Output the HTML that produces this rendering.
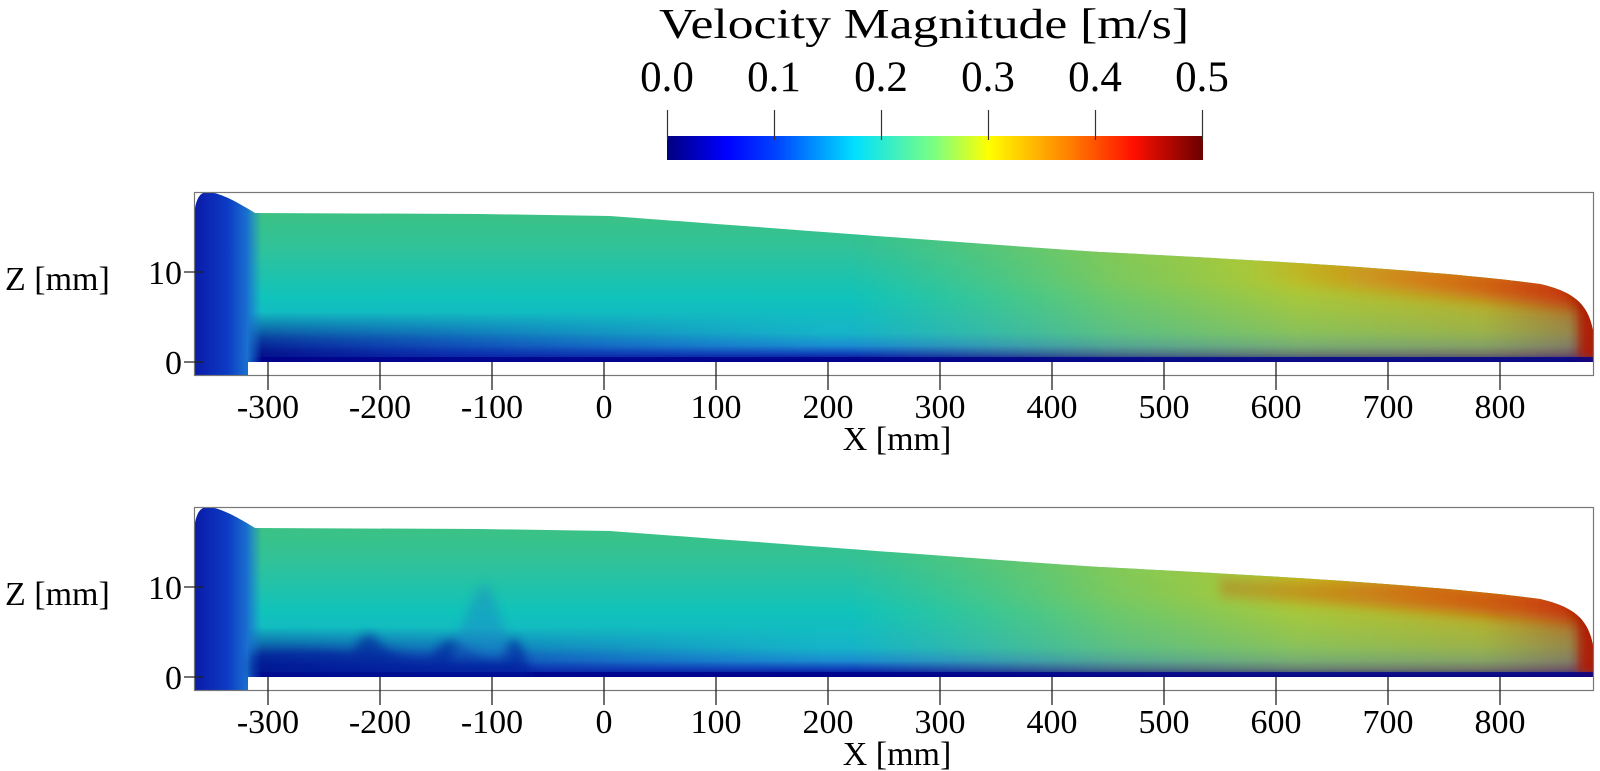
<!DOCTYPE html>
<html><head><meta charset="utf-8"><style>
html,body{margin:0;padding:0;background:#fff;}
svg{display:block;font-family:"Liberation Serif",serif;}
</style></head><body>
<svg width="1600" height="771" viewBox="0 0 1600 771" xmlns="http://www.w3.org/2000/svg">
<defs>
<filter id="bl" filterUnits="userSpaceOnUse" x="0" y="0" width="1700" height="800"><feGaussianBlur stdDeviation="8"/></filter>
<filter id="bl2" filterUnits="userSpaceOnUse" x="0" y="0" width="1700" height="800"><feGaussianBlur stdDeviation="5"/></filter>
<linearGradient id="cb" x1="0" x2="1" y1="0" y2="0">
<stop offset="0" stop-color="#00007f"/><stop offset="0.11" stop-color="#0000ff"/>
<stop offset="0.2" stop-color="#0040ff"/><stop offset="0.35" stop-color="#00e0ff"/>
<stop offset="0.5" stop-color="#7dff80"/><stop offset="0.6" stop-color="#ffff00"/>
<stop offset="0.75" stop-color="#ff8000"/><stop offset="0.87" stop-color="#ff1000"/>
<stop offset="1" stop-color="#6a0000"/></linearGradient>
<linearGradient id="vert" x1="0" x2="0" y1="200" y2="362" gradientUnits="userSpaceOnUse">
<stop offset="0" stop-color="#40c17c"/><stop offset="0.3" stop-color="#30c29a"/>
<stop offset="0.6" stop-color="#10c3bb"/><stop offset="0.82" stop-color="#16b4c8"/>
<stop offset="0.9" stop-color="#1a8cd0"/><stop offset="0.95" stop-color="#1040b8"/>
<stop offset="1" stop-color="#000088"/></linearGradient>
<linearGradient id="hor" x1="850" x2="1595" y1="0" y2="0" gradientUnits="userSpaceOnUse">
<stop offset="0" stop-color="#80d050" stop-opacity="0"/><stop offset="0.35" stop-color="#a8cc38" stop-opacity="0.7"/>
<stop offset="0.6" stop-color="#c8c820" stop-opacity="0.95"/><stop offset="0.85" stop-color="#d8b010"/>
<stop offset="1" stop-color="#d06010"/></linearGradient>
<linearGradient id="mk" x1="0" x2="0" y1="200" y2="362" gradientUnits="userSpaceOnUse">
<stop offset="0" stop-color="#fff"/><stop offset="0.5" stop-color="#fff" stop-opacity="0.95"/>
<stop offset="0.8" stop-color="#fff" stop-opacity="0.7"/><stop offset="0.95" stop-color="#fff" stop-opacity="0.5"/>
<stop offset="1" stop-color="#fff" stop-opacity="0.2"/></linearGradient>
<mask id="m1"><rect x="0" y="180" width="1600" height="200" fill="url(#mk)"/></mask>
<linearGradient id="mk2" x1="0" x2="0" y1="312" y2="356" gradientUnits="userSpaceOnUse">
<stop offset="0" stop-color="#fff" stop-opacity="0"/><stop offset="0.6" stop-color="#fff" stop-opacity="0.7"/><stop offset="1" stop-color="#fff"/></linearGradient>
<mask id="m2"><rect x="0" y="300" width="1600" height="80" fill="url(#mk2)"/></mask>
<linearGradient id="red" x1="1250" x2="1595" y1="0" y2="0" gradientUnits="userSpaceOnUse">
<stop offset="0" stop-color="#d87010" stop-opacity="0"/><stop offset="0.5" stop-color="#d86010" stop-opacity="0.7"/>
<stop offset="0.9" stop-color="#c83a08"/><stop offset="1" stop-color="#a01000"/></linearGradient>
<linearGradient id="inl" x1="194" x2="262" y1="0" y2="0" gradientUnits="userSpaceOnUse">
<stop offset="0" stop-color="#0a1aa8"/><stop offset="0.5" stop-color="#0c3cc4"/>
<stop offset="0.78" stop-color="#1a70d0"/><stop offset="1" stop-color="#1a80d0" stop-opacity="0"/></linearGradient>
<linearGradient id="dk" x1="248" x2="820" y1="0" y2="0" gradientUnits="userSpaceOnUse">
<stop offset="0" stop-color="#04108a"/><stop offset="0.35" stop-color="#0a28a8" stop-opacity="0.75"/><stop offset="1" stop-color="#1040b8" stop-opacity="0"/></linearGradient>
<clipPath id="shape"><path d="M194,215 C196,198 200,192 208,192 C222,193 240,204 255,213 L480,214 L610,216 C800,230 950,242 1100,252 C1300,262 1450,272 1540,284 C1575,292 1588,305 1593,330 L1594,362 L248,362 L248,376 L194,376 Z"/></clipPath>
<g id="fluid">
<g clip-path="url(#shape)">
<rect x="190" y="185" width="1410" height="195" fill="url(#vert)"/>
<rect x="190" y="185" width="1410" height="195" fill="url(#hor)" mask="url(#m1)"/>
<path d="M1250,250 C1400,262 1500,272 1600,280 L1600,310 C1500,300 1400,290 1250,280 Z" fill="url(#red)" filter="url(#bl)"/>
<rect x="1578" y="280" width="30" height="80" fill="#b01800" filter="url(#bl2)" opacity="0.9"/>
<rect x="248" y="300" width="600" height="62" fill="url(#dk)" mask="url(#m2)"/>
<rect x="190" y="357" width="1410" height="6" fill="#00008a" opacity="0.8"/>
<rect x="190" y="185" width="75" height="195" fill="url(#inl)"/>
</g></g>
</defs>

<text x="924" y="38" font-size="42" text-anchor="middle" textLength="530" lengthAdjust="spacingAndGlyphs">Velocity Magnitude [m/s]</text>
<rect x="667" y="136" width="536" height="24" fill="url(#cb)"/>
<g stroke="#333" stroke-width="1.2">
<line x1="667.5" y1="110" x2="667.5" y2="140"/><line x1="774.5" y1="110" x2="774.5" y2="140"/>
<line x1="881.5" y1="110" x2="881.5" y2="140"/><line x1="988.5" y1="110" x2="988.5" y2="140"/>
<line x1="1095.5" y1="110" x2="1095.5" y2="140"/><line x1="1202.5" y1="110" x2="1202.5" y2="140"/></g>
<g font-size="43" text-anchor="middle">
<text x="667" y="91">0.0</text><text x="774" y="91">0.1</text><text x="881" y="91">0.2</text>
<text x="988" y="91">0.3</text><text x="1095" y="91">0.4</text><text x="1202" y="91">0.5</text></g>

<!-- top plot -->
<g>
<use href="#fluid"/>
<rect x="194.5" y="192.5" width="1399" height="183" fill="none" stroke="#777" stroke-width="1.2"/>
<g stroke="#222" stroke-width="1.3">
<line x1="184" y1="272" x2="204" y2="272"/><line x1="184" y1="362" x2="204" y2="362"/>
<line x1="268" y1="362" x2="268" y2="390"/><line x1="380" y1="362" x2="380" y2="390"/><line x1="492" y1="362" x2="492" y2="390"/><line x1="604" y1="362" x2="604" y2="390"/><line x1="716" y1="362" x2="716" y2="390"/><line x1="828" y1="362" x2="828" y2="390"/><line x1="940" y1="362" x2="940" y2="390"/><line x1="1052" y1="362" x2="1052" y2="390"/><line x1="1164" y1="362" x2="1164" y2="390"/><line x1="1276" y1="362" x2="1276" y2="390"/><line x1="1388" y1="362" x2="1388" y2="390"/><line x1="1500" y1="362" x2="1500" y2="390"/></g>
<g font-size="34" text-anchor="middle">
<text x="268" y="418">-300</text><text x="380" y="418">-200</text><text x="492" y="418">-100</text><text x="604" y="418">0</text><text x="716" y="418">100</text><text x="828" y="418">200</text><text x="940" y="418">300</text><text x="1052" y="418">400</text><text x="1164" y="418">500</text><text x="1276" y="418">600</text><text x="1388" y="418">700</text><text x="1500" y="418">800</text></g>
<text x="897" y="450" font-size="34" text-anchor="middle">X [mm]</text>
<g font-size="34" text-anchor="end"><text x="182" y="284">10</text><text x="182" y="374">0</text></g>
<text x="5" y="290" font-size="34">Z [mm]</text>
</g>

<!-- bottom plot -->
<g transform="translate(0,315)">
<use href="#fluid"/>
<g clip-path="url(#shape)">
<path d="M250,362 L250,340 C280,334 330,336 352,338 C362,318 370,314 378,326 C388,340 410,344 432,342 C440,326 450,320 462,330 C472,338 485,344 500,344 C506,325 514,318 522,332 L532,362 Z" fill="#061a98" opacity="0.6" filter="url(#bl2)"/>
<path d="M450,345 C462,310 474,275 485,268 C494,280 502,305 512,342 Z" fill="#1a80c8" opacity="0.4" filter="url(#bl2)"/>
<path d="M1220,262 C1300,268 1380,276 1440,266 C1460,280 1480,278 1510,290 L1510,300 C1400,292 1300,288 1220,282 Z" fill="#c85010" opacity="0.3" filter="url(#bl2)"/>
</g>
<rect x="194.5" y="192.5" width="1399" height="183" fill="none" stroke="#777" stroke-width="1.2"/>
<g stroke="#222" stroke-width="1.3">
<line x1="184" y1="272" x2="204" y2="272"/><line x1="184" y1="362" x2="204" y2="362"/>
<line x1="268" y1="362" x2="268" y2="390"/><line x1="380" y1="362" x2="380" y2="390"/><line x1="492" y1="362" x2="492" y2="390"/><line x1="604" y1="362" x2="604" y2="390"/><line x1="716" y1="362" x2="716" y2="390"/><line x1="828" y1="362" x2="828" y2="390"/><line x1="940" y1="362" x2="940" y2="390"/><line x1="1052" y1="362" x2="1052" y2="390"/><line x1="1164" y1="362" x2="1164" y2="390"/><line x1="1276" y1="362" x2="1276" y2="390"/><line x1="1388" y1="362" x2="1388" y2="390"/><line x1="1500" y1="362" x2="1500" y2="390"/></g>
<g font-size="34" text-anchor="middle">
<text x="268" y="418">-300</text><text x="380" y="418">-200</text><text x="492" y="418">-100</text><text x="604" y="418">0</text><text x="716" y="418">100</text><text x="828" y="418">200</text><text x="940" y="418">300</text><text x="1052" y="418">400</text><text x="1164" y="418">500</text><text x="1276" y="418">600</text><text x="1388" y="418">700</text><text x="1500" y="418">800</text></g>
<text x="897" y="450" font-size="34" text-anchor="middle">X [mm]</text>
<g font-size="34" text-anchor="end"><text x="182" y="284">10</text><text x="182" y="374">0</text></g>
<text x="5" y="290" font-size="34">Z [mm]</text>
</g>
</svg>
</body></html>
